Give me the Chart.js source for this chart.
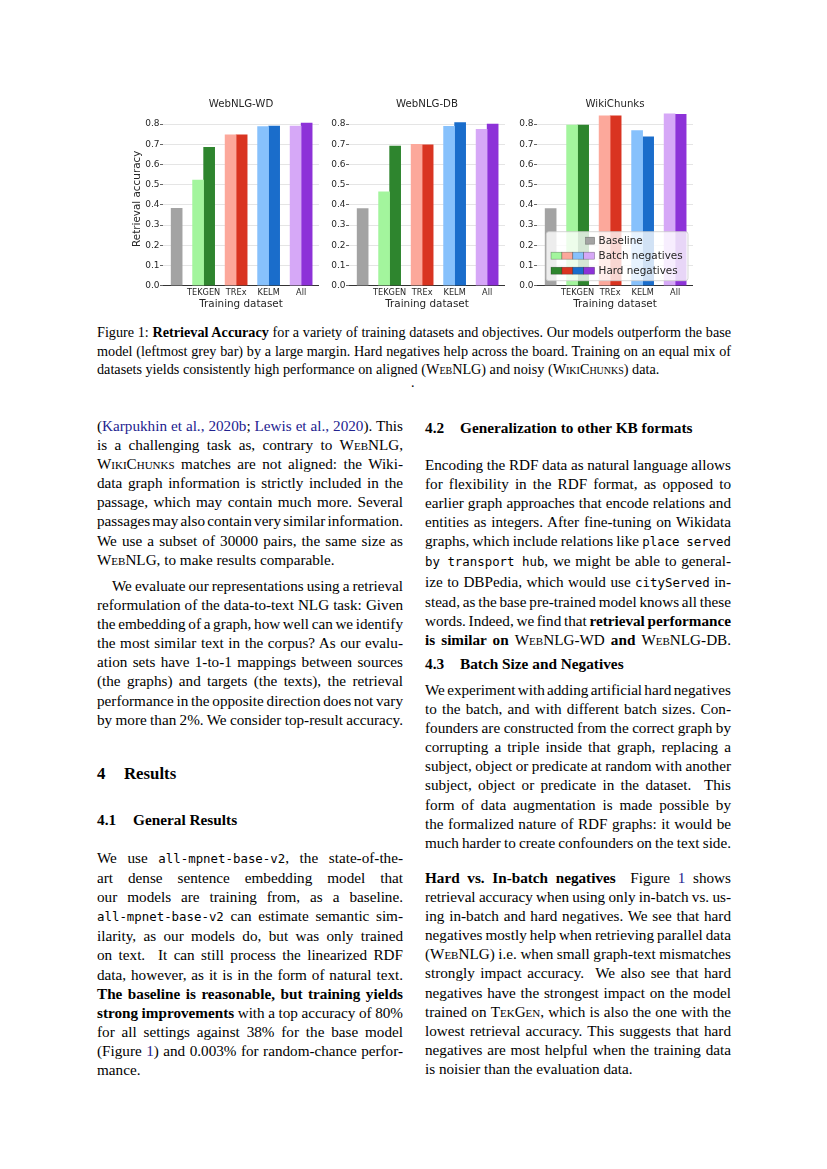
<!DOCTYPE html>
<html>
<head>
<meta charset="utf-8">
<script src="https://cdn.jsdelivr.net/npm/chart.js@4.4.0/dist/chart.umd.min.js"></script>
<style>
  body { margin: 0; background: #fff; }
  #page { position: relative; width: 827px; height: 1169px; overflow: hidden;
          font-family: "Liberation Serif", "Times New Roman", serif; font-size: 15.2px; color: #000; }
  canvas { position: absolute; }
  .blk { position: absolute; width: 306px; line-height: 19.1px; }
  .blk div, .cap div { text-align: justify; text-align-last: justify; }
  .blk div.e, .cap div.e { text-align-last: left; }
  .cap { position: absolute; left: 97px; width: 634px; font-size: 14.2px; line-height: 18.6px; }
  .sc { font-variant: small-caps; }
  .tt { font-family: "DejaVu Sans Mono", monospace; font-size: 12.4px; display: inline-block; }
  .c { color: #23238f; }
  .h { position: absolute; font-weight: bold; font-size: 15.3px; line-height: 19px; white-space: nowrap; }
  .h span { position: absolute; top: 0; }
  .ind { text-indent: 15px; }
</style>
</head>
<body>
<div id="page">
  <canvas id="wd" width="194" height="220" style="left:125px;top:95px"></canvas>
  <canvas id="db" width="178" height="220" style="left:327px;top:95px"></canvas>
  <canvas id="wc" width="178" height="220" style="left:515px;top:95px"></canvas>

  <div class="cap" style="top:323px">
    <div>Figure 1: <b>Retrieval Accuracy</b> for a variety of training datasets and objectives. Our models outperform the base</div>
    <div>model (leftmost grey bar) by a large margin. Hard negatives help across the board. Training on an equal mix of</div>
    <div class="e">datasets yields consistently high performance on aligned (<span class="sc">WebNLG</span>) and noisy (<span class="sc">WikiChunks</span>) data.</div>
  </div>
  <div style="position:absolute;left:411px;top:375px;font-size:14px">.</div>

  <div class="blk" style="left:97px;top:416px">
    <div>(<span class="c">Karpukhin et al., 2020b</span>; <span class="c">Lewis et al., 2020</span>). This</div>
    <div>is a challenging task as, contrary to <span class="sc">WebNLG</span>,</div>
    <div><span class="sc">WikiChunks</span> matches are not aligned: the Wiki-</div>
    <div>data graph information is strictly included in the</div>
    <div>passage, which may contain much more. Several</div>
    <div>passages may also contain very similar information.</div>
    <div>We use a subset of 30000 pairs, the same size as</div>
    <div class="e"><span class="sc">WebNLG</span>, to make results comparable.</div>
  </div>

  <div class="blk" style="left:97px;top:576px">
    <div class="ind">We evaluate our representations using a retrieval</div>
    <div>reformulation of the data-to-text NLG task: Given</div>
    <div>the embedding of a graph, how well can we identify</div>
    <div>the most similar text in the corpus? As our evalu-</div>
    <div>ation sets have 1-to-1 mappings between sources</div>
    <div>(the graphs) and targets (the texts), the retrieval</div>
    <div>performance in the opposite direction does not vary</div>
    <div>by more than 2%. We consider top-result accuracy.</div>
  </div>

  <div class="h" style="left:97px;top:764px;font-size:16.8px"><span style="left:0">4</span><span style="left:27px">Results</span></div>
  <div class="h" style="left:97px;top:810px"><span style="left:0">4.1</span><span style="left:36px">General Results</span></div>

  <div class="blk" style="left:97px;top:848px">
    <div>We use <span class="tt">all-mpnet-base-v2</span>, the state-of-the-</div>
    <div>art dense sentence embedding model that</div>
    <div>our models are training from, as a baseline.</div>
    <div><span class="tt">all-mpnet-base-v2</span> can estimate semantic sim-</div>
    <div>ilarity, as our models do, but was only trained</div>
    <div>on text. &nbsp;It can still process the linearized RDF</div>
    <div>data, however, as it is in the form of natural text.</div>
    <div><b>The baseline is reasonable, but training yields</b></div>
    <div><b>strong improvements</b> with a top accuracy of 80%</div>
    <div>for all settings against 38% for the base model</div>
    <div>(Figure <span class="c">1</span>) and 0.003% for random-chance perfor-</div>
    <div class="e">mance.</div>
  </div>

  <div class="h" style="left:425px;top:418px"><span style="left:0">4.2</span><span style="left:35px">Generalization to other KB formats</span></div>

  <div class="blk" style="left:425px;top:455px">
    <div>Encoding the RDF data as natural language allows</div>
    <div>for flexibility in the RDF format, as opposed to</div>
    <div>earlier graph approaches that encode relations and</div>
    <div>entities as integers. After fine-tuning on Wikidata</div>
    <div>graphs, which include relations like <span class="tt">place served</span></div>
    <div><span class="tt">by transport hub</span>, we might be able to general-</div>
    <div>ize to DBPedia, which would use <span class="tt">cityServed</span> in-</div>
    <div>stead, as the base pre-trained model knows all these</div>
    <div>words. Indeed, we find that <b>retrieval performance</b></div>
    <div><b>is similar on</b> <span class="sc">WebNLG-WD</span> <b>and</b> <span class="sc">WebNLG-DB</span>.</div>
  </div>

  <div class="h" style="left:425px;top:654px"><span style="left:0">4.3</span><span style="left:35px">Batch Size and Negatives</span></div>

  <div class="blk" style="left:425px;top:680px">
    <div>We experiment with adding artificial hard negatives</div>
    <div>to the batch, and with different batch sizes. Con-</div>
    <div>founders are constructed from the correct graph by</div>
    <div>corrupting a triple inside that graph, replacing a</div>
    <div>subject, object or predicate at random with another</div>
    <div>subject, object or predicate in the dataset. &nbsp;This</div>
    <div>form of data augmentation is made possible by</div>
    <div>the formalized nature of RDF graphs: it would be</div>
    <div>much harder to create confounders on the text side.</div>
  </div>

  <div class="blk" style="left:425px;top:868px">
    <div><b>Hard vs. In-batch negatives</b><span style="margin-right:7px"></span> Figure <span class="c">1</span> shows</div>
    <div>retrieval accuracy when using only in-batch vs. us-</div>
    <div>ing in-batch and hard negatives. We see that hard</div>
    <div>negatives mostly help when retrieving parallel data</div>
    <div>(<span class="sc">WebNLG</span>) i.e. when small graph-text mismatches</div>
    <div>strongly impact accuracy. &nbsp;We also see that hard</div>
    <div>negatives have the strongest impact on the model</div>
    <div>trained on <span class="sc">TekGen</span>, which is also the one with the</div>
    <div>lowest retrieval accuracy. This suggests that hard</div>
    <div>negatives are most helpful when the training data</div>
    <div class="e">is noisier than the evaluation data.</div>
  </div>
</div>

<script>
'use strict';

// training datasets on the x axis
var categories = ['TEKGEN', 'TREx', 'KELM', 'All'];
var legendLabels = ['Baseline', 'Batch negatives', 'Hard negatives'];
var yTicks = [0, 0.1, 0.2, 0.3, 0.4, 0.5, 0.6, 0.7, 0.8];

// WebNLG-WD
var baseWD = 0.383;
var batchWD = [0.523, 0.747, 0.787, 0.790];
var hardWD = [0.685, 0.746, 0.790, 0.805];

// WebNLG-DB
var baseDB = 0.382;
var batchDB = [0.464, 0.700, 0.788, 0.774];
var hardDB = [0.691, 0.697, 0.807, 0.800];

// WikiChunks
var baseWC = 0.382;
var batchWC = [0.795, 0.840, 0.767, 0.851];
var hardWC = [0.795, 0.840, 0.737, 0.848];

var baseColor = '#a3a3a3';
var batchColors = ['#a3f59d', '#fca89b', '#87c1fc', '#d6a8f7'];
var hardColors = ['#2e852e', '#d93421', '#1a6dcb', '#8d32d8'];

var BASE_X = -0.83;  // baseline bar sits left of the first dataset
var HALF = 0.17;     // half distance between batch / hard bars
var txt = '#262626';
var fam = 'DejaVu Sans';

// squeeze the word spacing of a text line until it fits on one line (like TeX shrink)
function fitLines() {
  var lines = document.querySelectorAll('.blk div, .cap div');
  lines.forEach(function(el) {
    var lh = parseFloat(getComputedStyle(el).lineHeight);
    var ws = 0, ls = 0;
    while (el.getBoundingClientRect().height > lh * 1.5 && ws > -4) {
      ws -= 0.2;
      el.style.wordSpacing = ws + 'px';
    }
    while (el.getBoundingClientRect().height > lh * 1.5 && ls > -1) {
      ls -= 0.05;
      el.style.letterSpacing = ls + 'px';
    }
  });
}
fitLines();

Chart.defaults.font.family = fam;

var patchLegend = {
  id: 'patchLegend',
  afterDraw: function(chart) {
    var ctx = chart.ctx;
    var area = chart.chartArea;
    var w = 141.7, h = 49;
    var x0 = area.right - 5 - w;
    var y0 = area.bottom - 5 - h;
    ctx.save();
    ctx.beginPath();
    ctx.roundRect(x0, y0, w, h, 2.5);
    ctx.fillStyle = 'rgba(255,255,255,0.8)';
    ctx.fill();
    ctx.strokeStyle = 'rgba(204,204,204,0.8)';
    ctx.lineWidth = 1;
    ctx.stroke();
    var rows = [[baseColor], batchColors, hardColors];
    ctx.font = '10.4px "' + fam + '"';
    ctx.textBaseline = 'middle';
    for (var r = 0; r < rows.length; r++) {
      var cy = y0 + 9 + r * 15;
      var cols = rows[r];
      var pw = r === 0 ? 9 : 10.9;
      for (var j = 0; j < cols.length; j++) {
        var px = x0 + 48.3 - pw * (cols.length - j);
        ctx.fillStyle = cols[j];
        ctx.fillRect(px, cy - 3.5, pw, 7);
        ctx.strokeStyle = 'rgba(0,0,0,0.4)';
        ctx.lineWidth = 0.6;
        ctx.strokeRect(px, cy - 3.5, pw, 7);
      }
      ctx.fillStyle = txt;
      ctx.fillText(legendLabels[r], x0 + 52.3, cy + 0.5);
    }
    ctx.restore();
  }
};

function makePanel(id, title, base, batch, hard, yWidth, showYTitle, withLegend) {
  var ctx = document.getElementById(id).getContext('2d');
  return new Chart(ctx, {
    type: 'bar',
    data: {
      datasets: [
        { label: legendLabels[0], data: [{ x: BASE_X, y: base }], backgroundColor: baseColor },
        { label: legendLabels[1], data: batch.map(function(v, i) { return { x: i - HALF, y: v }; }),
          backgroundColor: batchColors },
        { label: legendLabels[2], data: hard.map(function(v, i) { return { x: i + HALF, y: v }; }),
          backgroundColor: hardColors }
      ]
    },
    options: {
      responsive: false,
      animation: false,
      layout: { padding: 0 },
      datasets: { bar: { grouped: false, barThickness: 11, borderWidth: 0 } },
      plugins: {
        legend: { display: false },
        tooltip: { enabled: false },
        title: {
          display: true, text: title, fullSize: false, color: txt,
          font: { family: fam, size: 10.2, weight: 'normal', lineHeight: 1.2 },
          padding: { top: 3.5, bottom: 1.16 }
        }
      },
      scales: {
        x: {
          type: 'linear', min: -1.25, max: 3.55, offset: false, z: 1,
          afterBuildTicks: function(s) { s.ticks = categories.map(function(c, i) { return { value: i }; }); },
          ticks: {
            autoSkip: false, maxRotation: 0, color: txt, padding: 2.4,
            font: { family: fam, size: 8.2 },
            callback: function(v) { return categories[v]; }
          },
          grid: { display: false, drawTicks: false },
          border: { display: true, color: '#333333', width: 1 },
          title: {
            display: true, text: 'Training dataset', color: txt,
            font: { family: fam, size: 10.4, lineHeight: 1.2 },
            padding: { top: 0, bottom: 4.46 }
          },
          afterFit: function(s) { s.height = 29.3; }
        },
        y: {
          min: 0, max: 0.86, z: 1,
          afterBuildTicks: function(s) { s.ticks = yTicks.map(function(v) { return { value: v }; }); },
          ticks: {
            color: txt, padding: 0.5,
            font: { family: fam, size: 9 },
            callback: function(v) { return v.toFixed(1); }
          },
          grid: { color: 'rgba(0,0,0,0.1)', tickColor: '#666666', tickLength: 3, lineWidth: 1 },
          border: { display: false },
          title: {
            display: showYTitle, text: 'Retrieval accuracy', color: txt,
            font: { family: fam, size: 10.4, lineHeight: 1.2 },
            padding: { top: 6.26, bottom: 0 }
          },
          afterFit: function(s) { s.width = yWidth; }
        }
      }
    },
    plugins: withLegend ? [patchLegend] : []
  });
}

makePanel('wd', 'WebNLG-WD', baseWD, batchWD, hardWD, 38, true, false);
makePanel('db', 'WebNLG-DB', baseDB, batchDB, hardDB, 22, false, false);
makePanel('wc', 'WikiChunks', baseWC, batchWC, hardWC, 22, false, true);
</script>
</body>
</html>
